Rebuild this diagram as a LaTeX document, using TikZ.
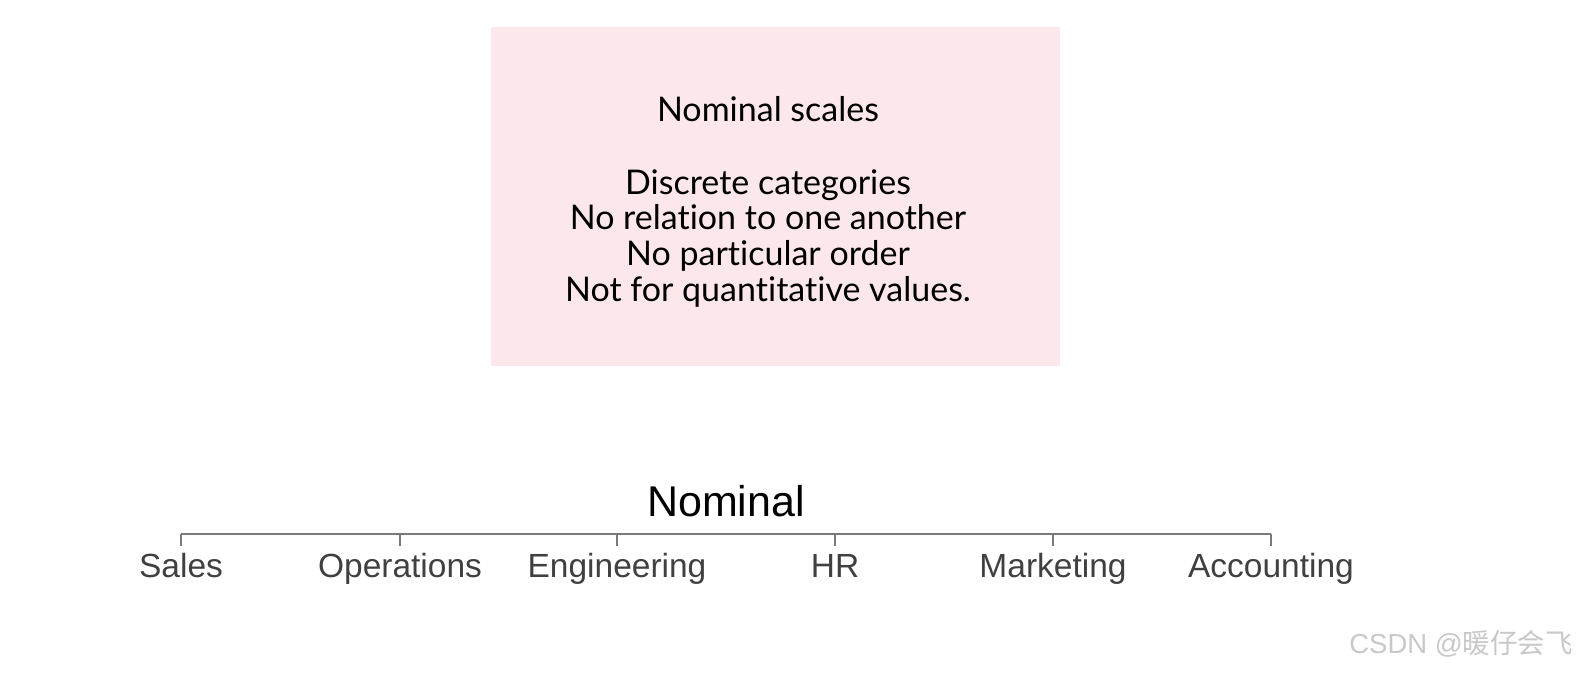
\documentclass[tikz,border=0pt]{standalone}
\usepackage{fontspec}
\setmainfont{Lato}[Ligatures=NoCommon]
\newfontfamily\arialfont{Liberation Sans}
\newfontfamily\cjkfont{Noto Sans CJK SC}
\definecolor{boxpink}{HTML}{FCE8EB}
\definecolor{scalegray}{HTML}{7A7A7A}
\definecolor{labelgray}{HTML}{404040}
\definecolor{wmgray}{HTML}{C8C8C8}
\begin{document}
\begin{tikzpicture}[x=1pt,y=-1pt,
  boxtext/.style={font=\fontsize{34}{35.7}\selectfont, align=center, text=black},
  catlabel/.style={font=\arialfont\fontsize{33.5}{36}\selectfont, text=labelgray, inner sep=0pt, anchor=base},
  tickline/.style={draw=scalegray, line width=2pt}]
\useasboundingbox (0,0) rectangle (1578,672);
\fill[boxpink] (491,27) rectangle (1060,366);
\node[boxtext] (info) at (768,202) {Nominal scales\\[36.5pt]Discrete categories\\No relation to one another\\No particular order\\Not for quantitative values.};
\node[font=\arialfont\fontsize{43}{46}\selectfont, text=black, inner sep=0pt] (title) at (726,501) {Nominal};
\coordinate (t1) at (181,534);
\coordinate (t2) at (400,534);
\coordinate (t3) at (617,534);
\coordinate (t4) at (835,534);
\coordinate (t5) at (1053,534);
\coordinate (t6) at (1271,534);
\draw[tickline] (t1) -- (t6);
\foreach \i in {1,...,6} { \draw[tickline] (t\i) -- ++(0,12); }
\node[catlabel] (l1) at (181,577) {Sales};
\node[catlabel] (l2) at (400,577) {Operations};
\node[catlabel] (l3) at (617,577) {Engineering};
\node[catlabel] (l4) at (835,577) {HR};
\node[catlabel] (l5) at (1053,577) {Marketing};
\node[catlabel] (l6) at (1271,577) {Accounting};
\node[anchor=east, text=wmgray, inner sep=0pt, font=\fontsize{27.5}{30}\selectfont] (wm) at (1573,644) {\arialfont CSDN @\cjkfont 暖仔会飞};
\end{tikzpicture}
\end{document}
